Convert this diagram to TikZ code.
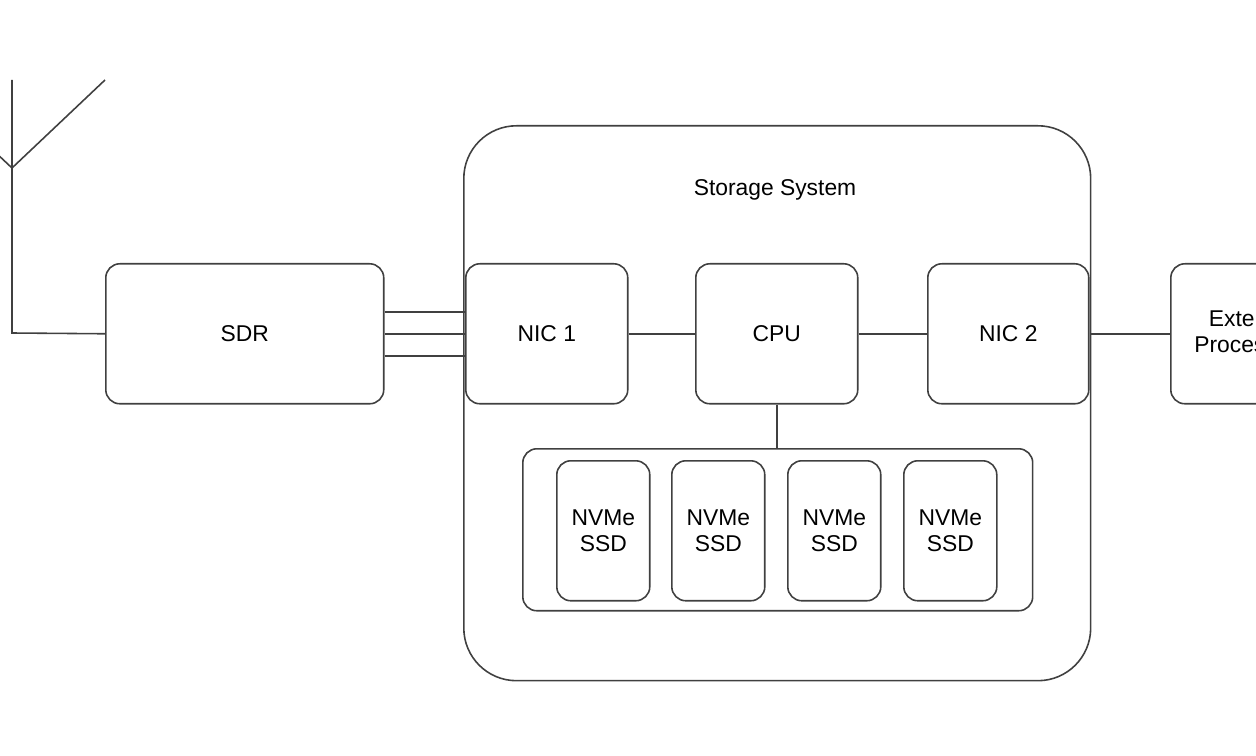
\documentclass[tikz,border=0pt]{standalone}
\usepackage{fontspec}
\setmainfont{Liberation Sans}
\begin{document}
\begin{tikzpicture}[x=0.02cm,y=-0.02cm,
  line width=0.9pt, draw=black!75,
  box/.style={draw=black!75,rounded corners=8pt,align=center,font=\fontsize{13}{15}\selectfont,inner sep=0pt,anchor=north west},
  ln/.style={draw=black!75,line width=0.9pt}]
\useasboundingbox (0,0) rectangle (1256,756);
\begin{scope}
\clip (0,0) rectangle (1256,756);
\node[box,rounded corners=30pt,minimum width=627\pgflinewidth/0.9*0+12.54cm,minimum height=11.1cm] (sys) at (463,125) {};
\node[font=\fontsize{13}{15}\selectfont] (lab) at (775,190) {Storage System};
\node[box,minimum width=5.56cm,minimum height=2.8cm] (sdr) at (105,263) {SDR};
\node[box,minimum width=3.24cm,minimum height=2.8cm] (nic1) at (465,263) {NIC 1};
\node[box,minimum width=3.24cm,minimum height=2.8cm] (cpu) at (695,263) {CPU};
\node[box,minimum width=3.22cm,minimum height=2.8cm] (nic2) at (927,263) {NIC 2};
\node[box,minimum width=3.2cm,minimum height=2.8cm] (ext) at (1170,263) {External\\Processing};
\node[box,minimum width=10.2cm,minimum height=3.24cm] (arr) at (522,448) {};
\foreach \x/\n in {556/a,671/b,787/c,903/d}
  \node[box,minimum width=1.86cm,minimum height=2.8cm] (ssd\n) at (\x,460) {NVMe\\SSD};
\coordinate (top) at (12,80);
\coordinate (feed) at (12,168);
\coordinate (arml) at (-5,152);
\coordinate (armr) at (105,80);
\coordinate (corner) at (12,333);
\draw[ln] (top) -- (corner) -- (sdr.west);
\draw[ln] (arml) -- (feed) -- (armr);
\foreach \dy in {-22,0,22}
  \draw[ln] ([yshift=-\dy*0.02cm]sdr.east) -- ([yshift=-\dy*0.02cm]nic1.west);
\draw[ln] (nic1) -- (cpu);
\draw[ln] (cpu) -- (nic2);
\draw[ln] (nic2) -- (ext);
\draw[ln] (cpu.south) -- (arr.north -| cpu.south);
\end{scope}
\end{tikzpicture}
\end{document}
